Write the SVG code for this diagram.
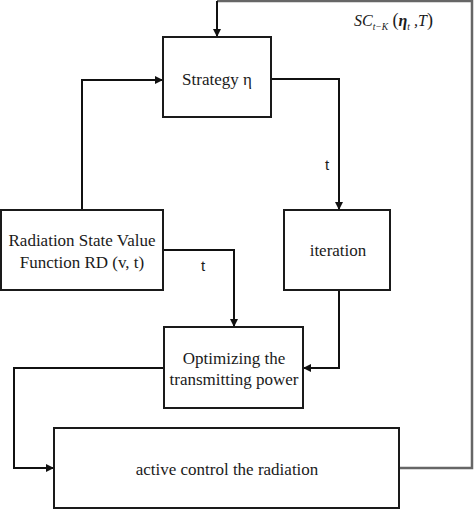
<svg xmlns="http://www.w3.org/2000/svg" width="474" height="510" viewBox="0 0 474 510">
<style>
.box{fill:#fff;stroke:#1a1a1a;stroke-width:2}
.lbl{font-family:"Liberation Serif","Times New Roman",serif;font-size:17px;fill:#1a1a1a;text-anchor:middle}
.t{font-family:"Liberation Sans",Arial,sans-serif;font-size:15px;fill:#1a1a1a;text-anchor:middle}
.ln{fill:none;stroke:#111;stroke-width:2}
.gl{fill:none;stroke:#666;stroke-width:2.5}
</style>
<defs>
<marker id="ah" viewBox="0 0 10 10" refX="10" refY="5" markerWidth="9" markerHeight="8" markerUnits="userSpaceOnUse" orient="auto">
<path d="M0,0 L10,5 L0,10 z" fill="#111"/>
</marker>
</defs>
<g id="connectors">
<path class="gl" d="M399,468 H472 V1 H217"/>
<path class="ln" d="M217,1 V37" marker-end="url(#ah)"/>
<path class="ln" d="M82,210 V80 H163" marker-end="url(#ah)"/>
<path class="ln" d="M271,79 H339 V210" marker-end="url(#ah)"/>
<path class="ln" d="M163,250 H234 V327" marker-end="url(#ah)"/>
<path class="ln" d="M339,290 V368 H303" marker-end="url(#ah)"/>
<path class="ln" d="M164,368 H14 V468 H54" marker-end="url(#ah)"/>
<text class="t" x="327" y="170">t</text>
<text class="t" x="203" y="271">t</text>
<text x="354" y="26" font-family="'Liberation Serif','Times New Roman',serif" font-size="16" font-style="italic" fill="#1a1a1a">SC<tspan font-size="9.5" dy="4">t−K</tspan><tspan dy="-4" font-style="normal" font-size="18"> (</tspan><tspan font-weight="bold">η</tspan><tspan font-size="9.5" dy="4">t</tspan><tspan dy="-4"> ,</tspan><tspan>T</tspan><tspan font-style="normal" font-size="18">)</tspan></text>
</g>
<g id="strategy">
<rect class="box" x="163" y="37" width="108" height="80"/>
<text class="lbl" x="217" y="85">Strategy η</text>
</g>
<g id="radiation">
<rect class="box" x="1" y="210" width="162" height="80"/>
<text class="lbl" x="82" y="246">Radiation State Value</text>
<text class="lbl" x="82" y="268">Function RD (v, t)</text>
</g>
<g id="iteration">
<rect class="box" x="284" y="210" width="106" height="80"/>
<text class="lbl" x="338" y="256">iteration</text>
</g>
<g id="optimizing">
<rect class="box" x="164" y="327" width="139" height="81"/>
<text class="lbl" x="234" y="364">Optimizing the</text>
<text class="lbl" x="234" y="385">transmitting power</text>
</g>
<g id="active">
<rect class="box" x="54" y="428" width="345" height="80"/>
<text class="lbl" x="227" y="475">active control the radiation</text>
</g>
</svg>
